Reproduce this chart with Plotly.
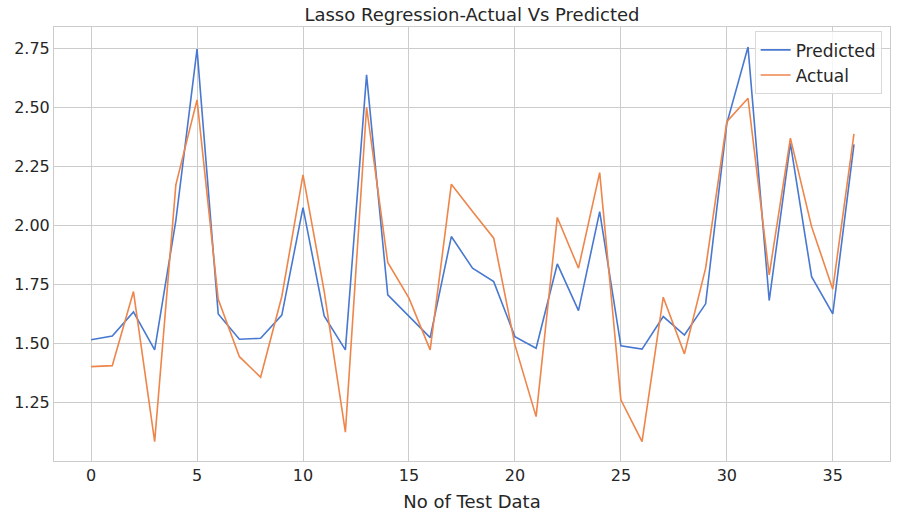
import plotly.graph_objects as go

# test index and model outputs
test_idx = list(range(37))

predicted = [1.515, 1.531, 1.633, 1.472, 2.02, 2.746, 1.624, 1.517, 1.521, 1.619,
             2.075, 1.616, 1.472, 2.637, 1.705, 1.613, 1.524, 1.952, 1.818, 1.761,
             1.528, 1.479, 1.836, 1.638, 2.058, 1.489, 1.475, 1.613, 1.535, 1.667,
             2.432, 2.755, 1.681, 2.347, 1.782, 1.624, 2.343]

actual = [1.401, 1.405, 1.719, 1.083, 2.171, 2.531, 1.686, 1.443, 1.356, 1.698,
          2.213, 1.72, 1.123, 2.5, 1.842, 1.691, 1.472, 2.174, 2.058, 1.945,
          1.493, 1.189, 2.033, 1.818, 2.223, 1.26, 1.083, 1.695, 1.455, 1.818,
          2.439, 2.538, 1.79, 2.369, 1.994, 1.729, 2.387]

fig = go.Figure()
fig.add_trace(go.Scatter(x=test_idx, y=predicted, mode='lines', name='Predicted',
                         line=dict(color='#4878d0', width=1.6)))
fig.add_trace(go.Scatter(x=test_idx, y=actual, mode='lines', name='Actual',
                         line=dict(color='#ee854a', width=1.6)))

axis_common = dict(showgrid=True, gridcolor='#cccccc', gridwidth=1,
                   showline=True, linecolor='#cccccc', linewidth=1, mirror=True,
                   zeroline=False, ticks='', automargin=False,
                   tickfont=dict(size=16, color='#262626'))

fig.update_xaxes(range=[-1.75, 37.7], tickvals=[0, 5, 10, 15, 20, 25, 30, 35],
                 title=dict(text='No of Test Data', font=dict(size=18, color='#262626'), standoff=11),
                 **axis_common)
fig.update_yaxes(range=[1.001, 2.84], tickvals=[1.25, 1.5, 1.75, 2.0, 2.25, 2.5, 2.75],
                 ticktext=['1.25', '1.50', '1.75', '2.00', '2.25', '2.50', '2.75'],
                 **axis_common)

fig.update_layout(
    width=897, height=518,
    margin=dict(l=54, r=7, t=27, b=57),
    plot_bgcolor='white', paper_bgcolor='white',
    font=dict(family='DejaVu Sans', color='#262626'),
    title=dict(text='Lasso Regression-Actual Vs Predicted', xref='paper', x=0.5, xanchor='center',
               yref='container', y=1 - 15 / 518, yanchor='middle', font=dict(size=18, color='#262626')),
    legend=dict(x=0.99, y=0.99, xanchor='right', yanchor='top',
                bgcolor='rgba(255,255,255,0.8)', bordercolor='#d9d9d9', borderwidth=1,
                font=dict(size=17, color='#262626')),
)

# drop the default 8px body margin so the figure fills the window
fig.write_html("out.html", config={'displayModeBar': False},
               post_script="document.body.style.margin='0';")
